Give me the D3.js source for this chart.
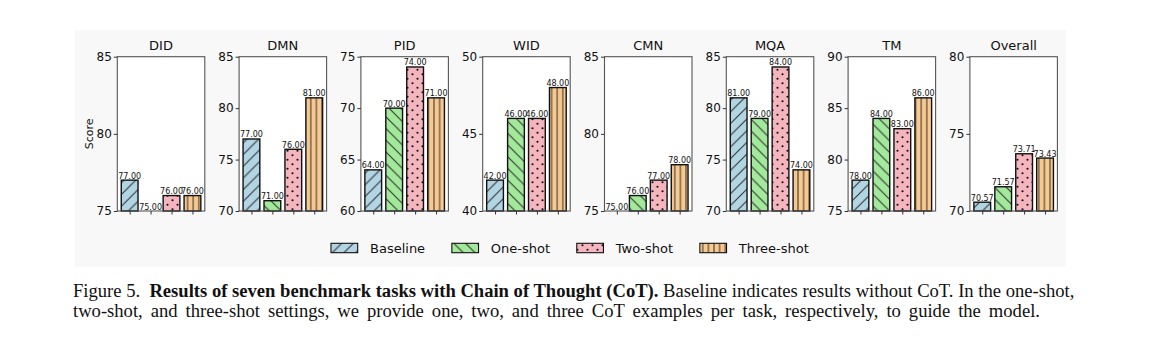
<!DOCTYPE html>
<html>
<head>
<meta charset="utf-8">
<script src="https://cdn.jsdelivr.net/npm/d3@7"></script>
<style>
  html, body { margin: 0; padding: 0; background: #fff; }
  svg { display: block; }
</style>
</head>
<body>
<svg id="fig" width="1149" height="346"></svg>
<script>
// Benchmark tasks and CoT settings
const tasks = ["DID", "DMN", "PID", "WID", "CMN", "MQA", "TM", "Overall"];
const settings = ["Baseline", "One-shot", "Two-shot", "Three-shot"];

// Scores per setting, one value per task
const baseline  = [77, 77, 64, 42, 75, 81, 78, 70.57];
const oneShot   = [75, 71, 70, 46, 76, 79, 84, 71.57];
const twoShot   = [76, 76, 74, 46, 77, 84, 83, 73.71];
const threeShot = [76, 81, 71, 48, 78, 74, 86, 73.43];

// Y-axis range per task panel
const yLow  = [75, 70, 60, 40, 75, 70, 75, 70];
const yHigh = [85, 85, 75, 50, 85, 85, 90, 80];
const yStep = 5;

const series = [baseline, oneShot, twoShot, threeShot];
const fills = ["#b2d5e4", "#a3e99b", "#f4b5bf", "#f6c992"];
const hatchIds = ["h-fwd", "h-back", "h-dots", "h-vert"];

const svg = d3.select("#fig");
const font = "'DejaVu Sans', sans-serif";

// page background and figure canvas
svg.append("rect").attr("width", 1149).attr("height", 346).attr("fill", "#fff");
svg.append("rect").attr("x", 75).attr("y", 30).attr("width", 991).attr("height", 237).attr("fill", "#f8f8f8");

// hatch patterns
const defs = svg.append("defs");
const hc = "#2a2a2a";
function pattern(id, w, h, fill, draw) {
  const p = defs.append("pattern").attr("id", id)
    .attr("patternUnits", "userSpaceOnUse").attr("width", w).attr("height", h);
  p.append("rect").attr("width", w).attr("height", h).attr("fill", fill);
  draw(p, w, h);
}
pattern(hatchIds[0], 11.7, 11.7, fills[0], (p, w, h) => {
  p.append("path").attr("d", `M0,${h} L${w},0 M${-w/2},${h/2} L${w/2},${-h/2} M${w/2},${h*1.5} L${w*1.5},${h/2}`)
    .attr("stroke", hc).attr("stroke-width", 1);
});
pattern(hatchIds[1], 11.7, 11.7, fills[1], (p, w, h) => {
  p.append("path").attr("d", `M0,0 L${w},${h} M${-w/2},${h/2} L${w/2},${h*1.5} M${w/2},${-h/2} L${w*1.5},${h/2}`)
    .attr("stroke", hc).attr("stroke-width", 1);
});
pattern(hatchIds[2], 10, 9, fills[2], (p) => {
  p.append("circle").attr("cx", 2.5).attr("cy", 2.25).attr("r", 1.1).attr("fill", "#111");
  p.append("circle").attr("cx", 7.5).attr("cy", 6.75).attr("r", 1.1).attr("fill", "#111");
});
pattern(hatchIds[3], 5.6, 10, fills[3], (p, w, h) => {
  p.append("path").attr("d", `M${w/2},0 L${w/2},${h}`).attr("stroke", "#3a3020").attr("stroke-width", 1);
});

// panel layout
const left0 = 117.3, panelStep = 121.8, pw = 87.5;
const plotTop = 56.7, plotBottom = 211;

tasks.forEach((task, t) => {
  const left = left0 + t * panelStep;
  const x = d3.scaleLinear().domain([-0.59, 3.59]).range([left, left + pw]);
  const y = d3.scaleLinear().domain([yLow[t], yHigh[t]]).range([plotBottom, plotTop]);
  const g = svg.append("g");

  g.append("rect").attr("x", left).attr("y", plotTop).attr("width", pw).attr("height", plotBottom - plotTop)
    .attr("fill", "#fff");

  const vals = series.map(s => s[t]);
  g.selectAll("rect.bar").data(vals).join("rect").attr("class", "bar")
    .attr("x", (d, i) => x(i - 0.4))
    .attr("width", (d, i) => x(i + 0.4) - x(i - 0.4))
    .attr("y", d => y(d))
    .attr("height", d => y(yLow[t]) - y(d))
    .attr("fill", (d, i) => `url(#${hatchIds[i]})`)
    .attr("stroke", "#111").attr("stroke-width", 1.4);

  g.selectAll("text.val").data(vals).join("text").attr("class", "val")
    .attr("x", (d, i) => x(i))
    .attr("y", d => y(d) - 1.5)
    .attr("text-anchor", "middle")
    .attr("font-family", font).attr("font-size", 8).attr("fill", "#111")
    .text(d => d3.format(".2f")(d));

  // frame
  g.append("rect").attr("x", left).attr("y", plotTop).attr("width", pw).attr("height", plotBottom - plotTop)
    .attr("fill", "none").attr("stroke", "#555").attr("stroke-width", 1.1);

  const yAxis = d3.axisLeft(y).tickValues(d3.range(yLow[t], yHigh[t] + 0.01, yStep))
    .tickSize(3.5).tickPadding(2).tickFormat(d3.format("d"));
  const ya = g.append("g").attr("transform", `translate(${left},0)`).call(yAxis);
  ya.select(".domain").remove();
  ya.selectAll("line").attr("stroke", "#333");
  ya.selectAll("text").attr("font-family", font).attr("font-size", 12).attr("fill", "#111");

  const xAxis = d3.axisBottom(x).tickValues([0, 1, 2, 3]).tickFormat("").tickSize(3.5);
  const xa = g.append("g").attr("transform", `translate(0,${plotBottom})`).call(xAxis);
  xa.select(".domain").remove();
  xa.selectAll("line").attr("stroke", "#333");

  g.append("text").attr("x", left + pw / 2).attr("y", plotTop - 6.5)
    .attr("text-anchor", "middle").attr("font-family", font).attr("font-size", 13)
    .attr("fill", "#111").text(task);
});

// y-axis title on the first panel
svg.append("text")
  .attr("transform", `translate(93,${(plotTop + plotBottom) / 2}) rotate(-90)`)
  .attr("text-anchor", "middle").attr("font-family", font).attr("font-size", 11)
  .attr("fill", "#111").text("Score");

// legend
const legY = 248, patchW = 26.7, patchH = 9.4, textGap = 12.3, colGap = 26.7;
let lx = 331;
settings.forEach((name, i) => {
  svg.append("rect").attr("x", lx).attr("y", legY - patchH / 2)
    .attr("width", patchW).attr("height", patchH)
    .attr("fill", `url(#${hatchIds[i]})`).attr("stroke", "#111").attr("stroke-width", 1.1);
  const tx = svg.append("text").attr("x", lx + patchW + textGap).attr("y", legY + 4.6)
    .attr("font-family", font).attr("font-size", 13).attr("fill", "#111").text(name);
  lx += patchW + textGap + tx.node().getComputedTextLength() + colGap;
});

// caption: two lines, the first one set to the full text width
const serif = "'Liberation Serif', 'Times New Roman', serif";
const capX = 73, capWidth = 1002, lastLineWidth = 967;
const countSpaces = s => s.split(" ").length - 1;

const cap1 = svg.append("text").attr("x", capX).attr("y", 297)
  .attr("font-family", serif).attr("font-size", 15).attr("fill", "#111");
const parts = [
  ["normal", "Figure 5.\u00a0 "],
  ["bold", "Results of seven benchmark tasks with Chain of Thought (CoT)."],
  ["normal", " Baseline indicates results without CoT. In the one-shot,"]
];
parts.forEach(([w, s]) => cap1.append("tspan").attr("font-weight", w).text(s));
const fs = 15 * capWidth / cap1.node().getComputedTextLength();
cap1.attr("font-size", fs);

const line2Text = "two-shot, and three-shot settings, we provide one, two, and three CoT examples per task, respectively, to guide the model.";
const cap2 = svg.append("text").attr("x", capX).attr("y", 317)
  .attr("font-family", serif).attr("font-size", fs).attr("fill", "#111").text(line2Text);
const extra = lastLineWidth - cap2.node().getComputedTextLength();
if (extra > 0) cap2.attr("word-spacing", extra / countSpaces(line2Text));
</script>
</body>
</html>
